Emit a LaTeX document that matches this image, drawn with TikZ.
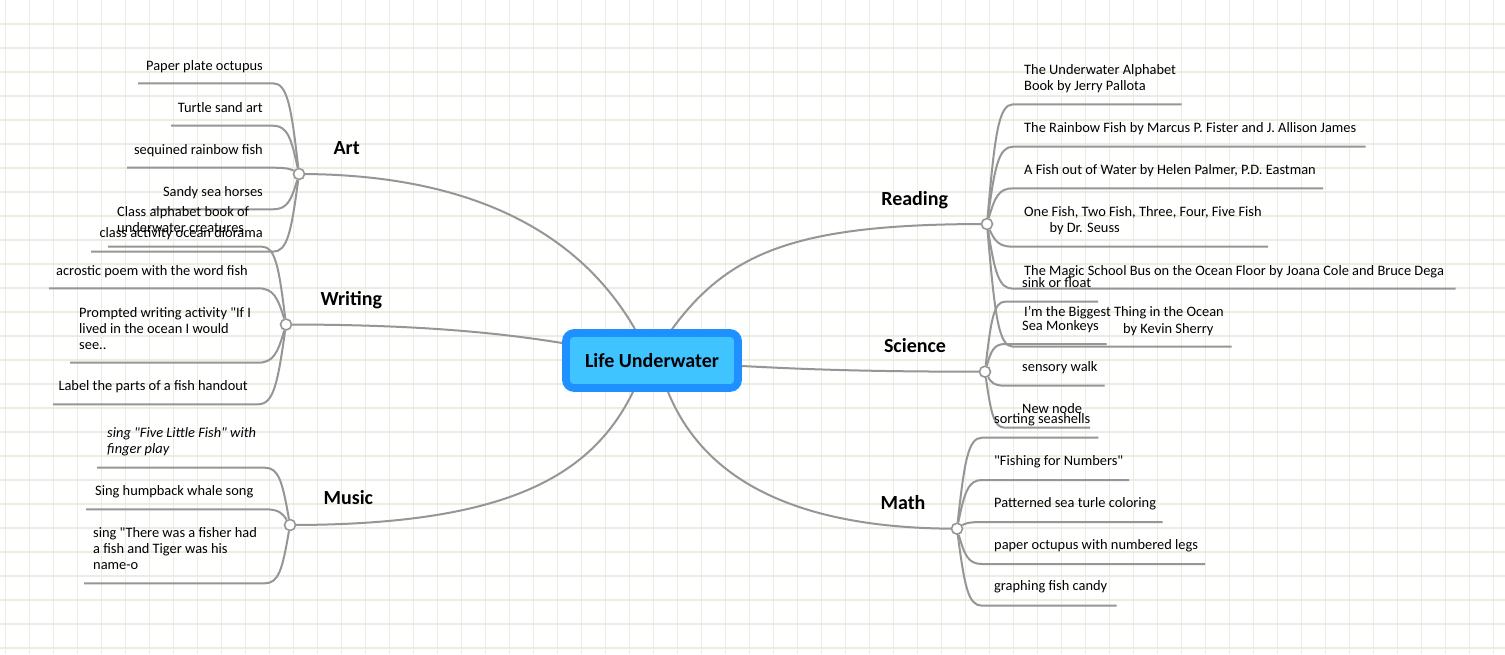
\documentclass[tikz,border=0pt]{standalone}
\usepackage{fontspec}
\setmainfont{Carlito}[Ligatures=TeXOff]
\usetikzlibrary{calc}
\definecolor{gridc}{RGB}{232,239,224}
\definecolor{linec}{RGB}{150,150,150}
\definecolor{rootborder}{RGB}{30,144,255}
\definecolor{rootfill}{RGB}{64,196,255}
\pgfdeclarelayer{gridlayer}
\pgfdeclarelayer{linelayer}
\pgfsetlayers{gridlayer,linelayer,main}
\tikzset{
 gridline/.style={draw=gridc, line width=1.2pt},
 conn/.style={draw=linec, line width=2pt},
 hub/.style={circle, draw=linec, fill=white, line width=1.6pt, minimum size=11pt, inner sep=0pt},
 txt/.style={font=\fontsize{14.4}{16}\selectfont, inner sep=0pt, align=left, text=black},
 topic/.style={font=\bfseries\fontsize{20}{24}\selectfont, inner sep=0pt, anchor=base},
 rootbox/.style={rounded corners=8pt, draw=rootborder, fill=rootfill, line width=7.7pt, minimum width=172pt, minimum height=55pt, font=\bfseries\fontsize{20}{24}\selectfont, inner sep=0pt},
}
\newcommand\mmleaf[3]{%
 \draw[conn] let \p1=(#1),\p2=(#2) in (#1) .. controls ({\x1+0.3*(\x2-\x1)},{\y1+0.75*(\y2-\y1)}) and ({\x1+0.45*(\x2-\x1)},{\y2}) .. (#2) -- (#3);}
\begin{document}
\begin{tikzpicture}[x=1pt,y=-1pt]
\useasboundingbox (0,0) rectangle (1505,654);
\begin{pgfonlayer}{gridlayer}
\fill[white] (0,0) rectangle (1505,654);
\foreach \i in {0,...,62} \draw[gridline] ({5.3+24*\i},0) -- ({5.3+24*\i},654);
\foreach \j in {1,...,27} \draw[gridline] (0,{24*\j}) -- (1505,{24*\j});
\end{pgfonlayer}

% root
\node[rootbox] (root) at (652,360.5) {Life Underwater};

% hubs
\node[hub] (ac) at (299,174) {};
\node[hub] (wc) at (286,324.5) {};
\node[hub] (mc) at (290,525) {};
\node[hub] (rc) at (987,224) {};
\node[hub] (sc) at (985,371.7) {};
\node[hub] (thc) at (957,528.7) {};

% topic labels
\node[topic] (artl) at (346.7,154.3) {Art};
\node[topic] (writl) at (351.3,305) {Writing};
\node[topic] (musl) at (348.3,504.3) {Music};
\node[topic] (readl) at (914.7,205) {Reading};
\node[topic] (scil) at (915,352) {Science};
\node[topic] (mathl) at (903,509.3) {Math};

% Art children
\node[txt, anchor=base east] (a1) at (263,70) {Paper plate octupus};
\coordinate (a1s) at (138,83.3); \coordinate (a1e) at (273,83.3);
\node[txt, anchor=base east] (a2) at (263,112) {Turtle sand art};
\coordinate (a2s) at (171,125.7); \coordinate (a2e) at (273,125.7);
\node[txt, anchor=base east] (a3) at (263,154) {sequined rainbow fish};
\coordinate (a3s) at (127,167.7); \coordinate (a3e) at (273,167.7);
\node[txt, anchor=base east] (a4) at (263,196) {Sandy sea horses};
\coordinate (a4s) at (152,209.3); \coordinate (a4e) at (273,209.3);
\node[txt, anchor=base east] (a5) at (263,237.5) {class activity ocean diorama};
\coordinate (a5s) at (91,251.7); \coordinate (a5e) at (273,251.7);

% Writing children
\node[txt, anchor=base west] (w1) at (117,232.7) {Class alphabet book of\\underwater creatures};
\coordinate (w1s) at (108,246.7); \coordinate (w1e) at (262,246.7);
\node[txt, anchor=base east] (w2) at (248,275) {acrostic poem with the word fish};
\coordinate (w2s) at (49,288.3); \coordinate (w2e) at (258,288.3);
\node[txt, anchor=base west] (w3) at (79,349) {Prompted writing activity "If I\\lived in the ocean I would\\see..};
\coordinate (w3s) at (70,362.7); \coordinate (w3e) at (258,362.7);
\node[txt, anchor=base east] (w4) at (248,390) {Label the parts of a fish handout};
\coordinate (w4s) at (53,404.3); \coordinate (w4e) at (258,404.3);

% Music children
\node[txt, anchor=base west, font=\itshape\fontsize{14.4}{16}\selectfont] (m1) at (107,453.3) {sing "Five Little Fish" with\\finger play};
\coordinate (m1s) at (97,467.7); \coordinate (m1e) at (265,467.7);
\node[txt, anchor=base west] (m2) at (95,495.7) {Sing humpback whale song};
\coordinate (m2s) at (86,509.3); \coordinate (m2e) at (265,509.3);
\node[txt, anchor=base west] (m3) at (93,569.3) {sing "There was a fisher had\\a fish and Tiger was his\\name-o};
\coordinate (m3s) at (84,583.3); \coordinate (m3e) at (265,583.3);

% Reading children
\node[txt, anchor=base west] (r1) at (1024,90.7) {The Underwater Alphabet\\Book by Jerry Pallota};
\coordinate (r1s) at (1013,104.3); \coordinate (r1e) at (1181.7,104.3);
\node[txt, anchor=base west] (r2) at (1024,132.7) {The Rainbow Fish by Marcus P. Fister and J. Allison James};
\coordinate (r2s) at (1013,146.7); \coordinate (r2e) at (1365.7,146.7);
\node[txt, anchor=base west] (r3) at (1024,174.7) {A Fish out of Water by Helen Palmer, P.D. Eastman};
\coordinate (r3s) at (1013,188.3); \coordinate (r3e) at (1323,188.3);
\node[txt, anchor=base west] (r4) at (1024,232.7) {One Fish, Two Fish, Three, Four, Five Fish\\\hspace*{25.3pt}by Dr. Seuss};
\coordinate (r4s) at (1013,246.7); \coordinate (r4e) at (1268,246.7);
\node[txt, anchor=base west] (r5) at (1024,275) {The Magic School Bus on the Ocean Floor by Joana Cole and Bruce Dega};
\coordinate (r5s) at (1013,288.7); \coordinate (r5e) at (1455.7,288.7);
\node[txt, anchor=base west, font=\fontsize{14.4}{16.6}\selectfont] (r6) at (1024,333.3) {I’m the Biggest Thing in the Ocean\\\hspace*{99pt}by Kevin Sherry};
\coordinate (r6s) at (1013,346.7); \coordinate (r6e) at (1231.7,346.7);

% Science children
\node[txt, anchor=base west] (s1) at (1022,287.3) {sink or float};
\coordinate (s1s) at (1005,301.7); \coordinate (s1e) at (1098,301.7);
\node[txt, anchor=base west] (s2) at (1022,330) {Sea Monkeys};
\coordinate (s2s) at (1005,344); \coordinate (s2e) at (1106.7,344);
\node[txt, anchor=base west] (s3) at (1022,371.7) {sensory walk};
\coordinate (s3s) at (1005,385.7); \coordinate (s3e) at (1104.7,385.7);
\node[txt, anchor=base west] (s4) at (1022,413.3) {New node};
\coordinate (s4s) at (1005,427.7); \coordinate (s4e) at (1090,427.7);

% Math children
\node[txt, anchor=base west] (t1) at (994,423.5) {sorting seashells};
\coordinate (t1s) at (982,437.7); \coordinate (t1e) at (1098.3,437.7);
\node[txt, anchor=base west] (t2) at (994,465) {"Fishing for Numbers"};
\coordinate (t2s) at (982,480); \coordinate (t2e) at (1129,480);
\node[txt, anchor=base west] (t3) at (994,507.3) {Patterned sea turle coloring};
\coordinate (t3s) at (982,522); \coordinate (t3e) at (1162.7,522);
\node[txt, anchor=base west] (t4) at (994,549.3) {paper octupus with numbered legs};
\coordinate (t4s) at (982,564); \coordinate (t4e) at (1205,564);
\node[txt, anchor=base west] (t5) at (994,590.7) {graphing fish candy};
\coordinate (t5s) at (982,605.7); \coordinate (t5e) at (1116.7,605.7);

\begin{pgfonlayer}{linelayer}
% main branches
\draw[conn] (ac.center) .. controls (460,174) and (575,225) .. ($(root.north)+(-17,0)$);
\draw[conn] (wc.center) .. controls (420,324.5) and (500,333) .. ($(root.west)+(0,-17.5)$);
\draw[conn] (mc.center) .. controls (500,525) and (590,480) .. ($(root.south)+(-19,0)$);
\draw[conn] (rc.center) .. controls (800,224) and (730,250) .. ($(root.north)+(20,0)$);
\draw[conn] ($(root.east)+(0,5.5)$) .. controls (800,369) and (860,371.7) .. (sc.center);
\draw[conn] ($(root.south)+(16,0)$) .. controls (700,470) and (780,528.7) .. (thc.center);
% leaves
\mmleaf{ac}{a1e}{a1s}\mmleaf{ac}{a2e}{a2s}\mmleaf{ac}{a3e}{a3s}\mmleaf{ac}{a4e}{a4s}\mmleaf{ac}{a5e}{a5s}
\mmleaf{wc}{w1e}{w1s}\mmleaf{wc}{w2e}{w2s}\mmleaf{wc}{w3e}{w3s}\mmleaf{wc}{w4e}{w4s}
\mmleaf{mc}{m1e}{m1s}\mmleaf{mc}{m2e}{m2s}\mmleaf{mc}{m3e}{m3s}
\mmleaf{rc}{r1s}{r1e}\mmleaf{rc}{r2s}{r2e}\mmleaf{rc}{r3s}{r3e}\mmleaf{rc}{r4s}{r4e}\mmleaf{rc}{r5s}{r5e}\mmleaf{rc}{r6s}{r6e}
\mmleaf{sc}{s1s}{s1e}\mmleaf{sc}{s2s}{s2e}\mmleaf{sc}{s3s}{s3e}\mmleaf{sc}{s4s}{s4e}
\mmleaf{thc}{t1s}{t1e}\mmleaf{thc}{t2s}{t2e}\mmleaf{thc}{t3s}{t3e}\mmleaf{thc}{t4s}{t4e}\mmleaf{thc}{t5s}{t5e}
\end{pgfonlayer}
\end{tikzpicture}
\end{document}
